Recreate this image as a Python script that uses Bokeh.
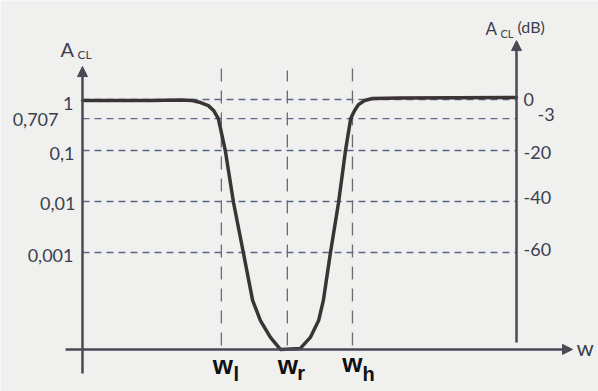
from bokeh.plotting import figure
from bokeh.models import Range1d, Arrow, NormalHead
from bokeh.core.properties import value
from bokeh.embed import file_html
from bokeh.resources import INLINE

# ---------------- data ----------------
# frequency (arbitrary schematic units: 0 = gain axis, 100 = dB axis)
curve_freq = [0, 15.7, 22.6, 25.3, 27.2, 29.0, 30.2, 31.3, 32.9, 34.8, 37.1, 39.2,
              41.0, 43.3, 45.6, 50.2, 52.5, 54.4, 55.5, 57.1, 59.0, 60.6, 61.8,
              62.7, 63.6, 65.0, 66.8, 73.3, 100]
# gain in schematic dB position (diagram is not drawn to scale near -3 dB)
curve_db = [-0.4, -0.4, -0.2, -0.4, -1.2, -2.4, -4.3, -7.5, -20, -40.4, -60.4, -78.8,
            -86.7, -93.3, -98, -97.6, -93.3, -86.7, -78.8, -60.4, -40.4, -20, -7.5,
            -4.3, -2.0, -0.4, 0.4, 0.6, 0.8]

level_pos = [0, -7.5, -20, -40, -60]
gain_labels = ["1", "0,707", "0,1", "0,01", "0,001"]
db_labels = ["0", "-3", "-20", "-40", "-60"]

corner_freq = [32.0, 47.2, 62.2]
corner_main = ["w", "w", "w"]
corner_sub = ["l", "r", "h"]

# axis extents (schematic units)
gain_axis_x, db_axis_x = 0, 100
freq_axis_y = -98
gain_axis_span = (-107.5, 12.9)
db_axis_span = (-95.3, 23.1)
freq_axis_span = (-3.9, 112.9)
vline_top = [12.2, 11.4, 14.5]
vline_bottom = -96.5

# ---------------- style ----------------
bg = "#f0f0ef"
axis_col = "#4a4955"
curve_col = "#3b3434"
dash_col = "#5d6789"
vdash_col = "#6b6b72"
txt_col = "#3a3f4e"
FONT = "Lato"

p = figure(width=598, height=391, output_backend="svg", toolbar_location=None,
           x_range=Range1d(-18.89, 118.89), y_range=Range1d(-114.51, 38.82),
           x_axis_type=None, y_axis_type=None,
           min_border=0, min_border_left=0, min_border_right=0,
           min_border_top=0, min_border_bottom=0)
p.grid.visible = False
p.outline_line_color = None
p.background_fill_color = bg
p.border_fill_color = bg

# horizontal dashed level lines
p.segment(x0=[gain_axis_x] * len(level_pos), x1=[db_axis_x] * len(level_pos),
          y0=level_pos, y1=level_pos, line_color=dash_col, line_width=1.3,
          line_dash="7 5")

# vertical dashed corner lines
p.segment(x0=corner_freq, x1=corner_freq, y0=[vline_bottom] * 3, y1=vline_top,
          line_color=vdash_col, line_width=1.3, line_dash="13 9")

# axes
def axis_arrow(xs, ys, xe, ye):
    p.add_layout(Arrow(end=NormalHead(size=10, fill_color=axis_col, line_color=axis_col, line_width=1),
                       x_start=xs, y_start=ys, x_end=xe, y_end=ye,
                       line_color=axis_col, line_width=2.5))

axis_arrow(gain_axis_x, gain_axis_span[0], gain_axis_x, gain_axis_span[1])
axis_arrow(db_axis_x, db_axis_span[0], db_axis_x, db_axis_span[1])
axis_arrow(freq_axis_span[0], freq_axis_y, freq_axis_span[1], freq_axis_y)

# response curve
p.line(curve_freq, curve_db, line_color=curve_col, line_width=3.5,
       line_join="round", line_cap="round")

def label(x, y, text, dx, dy, size, align="left", font=FONT, style="normal", color=txt_col):
    p.text(x=x, y=y, text=text, x_offset=dx, y_offset=dy, text_align=align,
           text_baseline="middle", text_font=value(font), text_font_style=style,
           text_font_size=size, text_color=color)

# left tick labels
label([gain_axis_x] * 5, level_pos, gain_labels,
      [-9, -24, -8, -7, -9], [4, 1, 3, 2.5, 3], "18px", align="right")

# right tick labels
label([db_axis_x] * 5, level_pos, db_labels,
      [7, 21, 7, 7, 7], [0, -4, 2.5, -3.5, -3], "18px")

# axis titles
label([gain_axis_x], [gain_axis_span[1]], ["A"], [-22], [-17.5], "20px")
label([gain_axis_x], [gain_axis_span[1]], ["CL"], [-5], [-12], "12px")
label([db_axis_x], [db_axis_span[1]], ["A"], [-31], [-12.5], "17px")
label([db_axis_x], [db_axis_span[1]], ["CL"], [-16], [-7.5], "11px")
label([db_axis_x], [db_axis_span[1]], ["(dB)"], [1], [-14], "16px")
label([freq_axis_span[1]], [freq_axis_y], ["w"], [4], [-2], "22px")

# corner frequency labels
label(corner_freq, [freq_axis_y] * 3, corner_main, [1.5, 0.5, 0], [16, 16, 13.5],
      "26px", align="center", font="Liberation Sans", style="bold", color="#111111")
label(corner_freq, [freq_axis_y] * 3, corner_sub, [12, 10, 10], [25, 23.5, 24.5],
      "20px", font="Liberation Sans", style="bold", color="#111111")

open("out.html", "w").write(file_html(p, INLINE))
